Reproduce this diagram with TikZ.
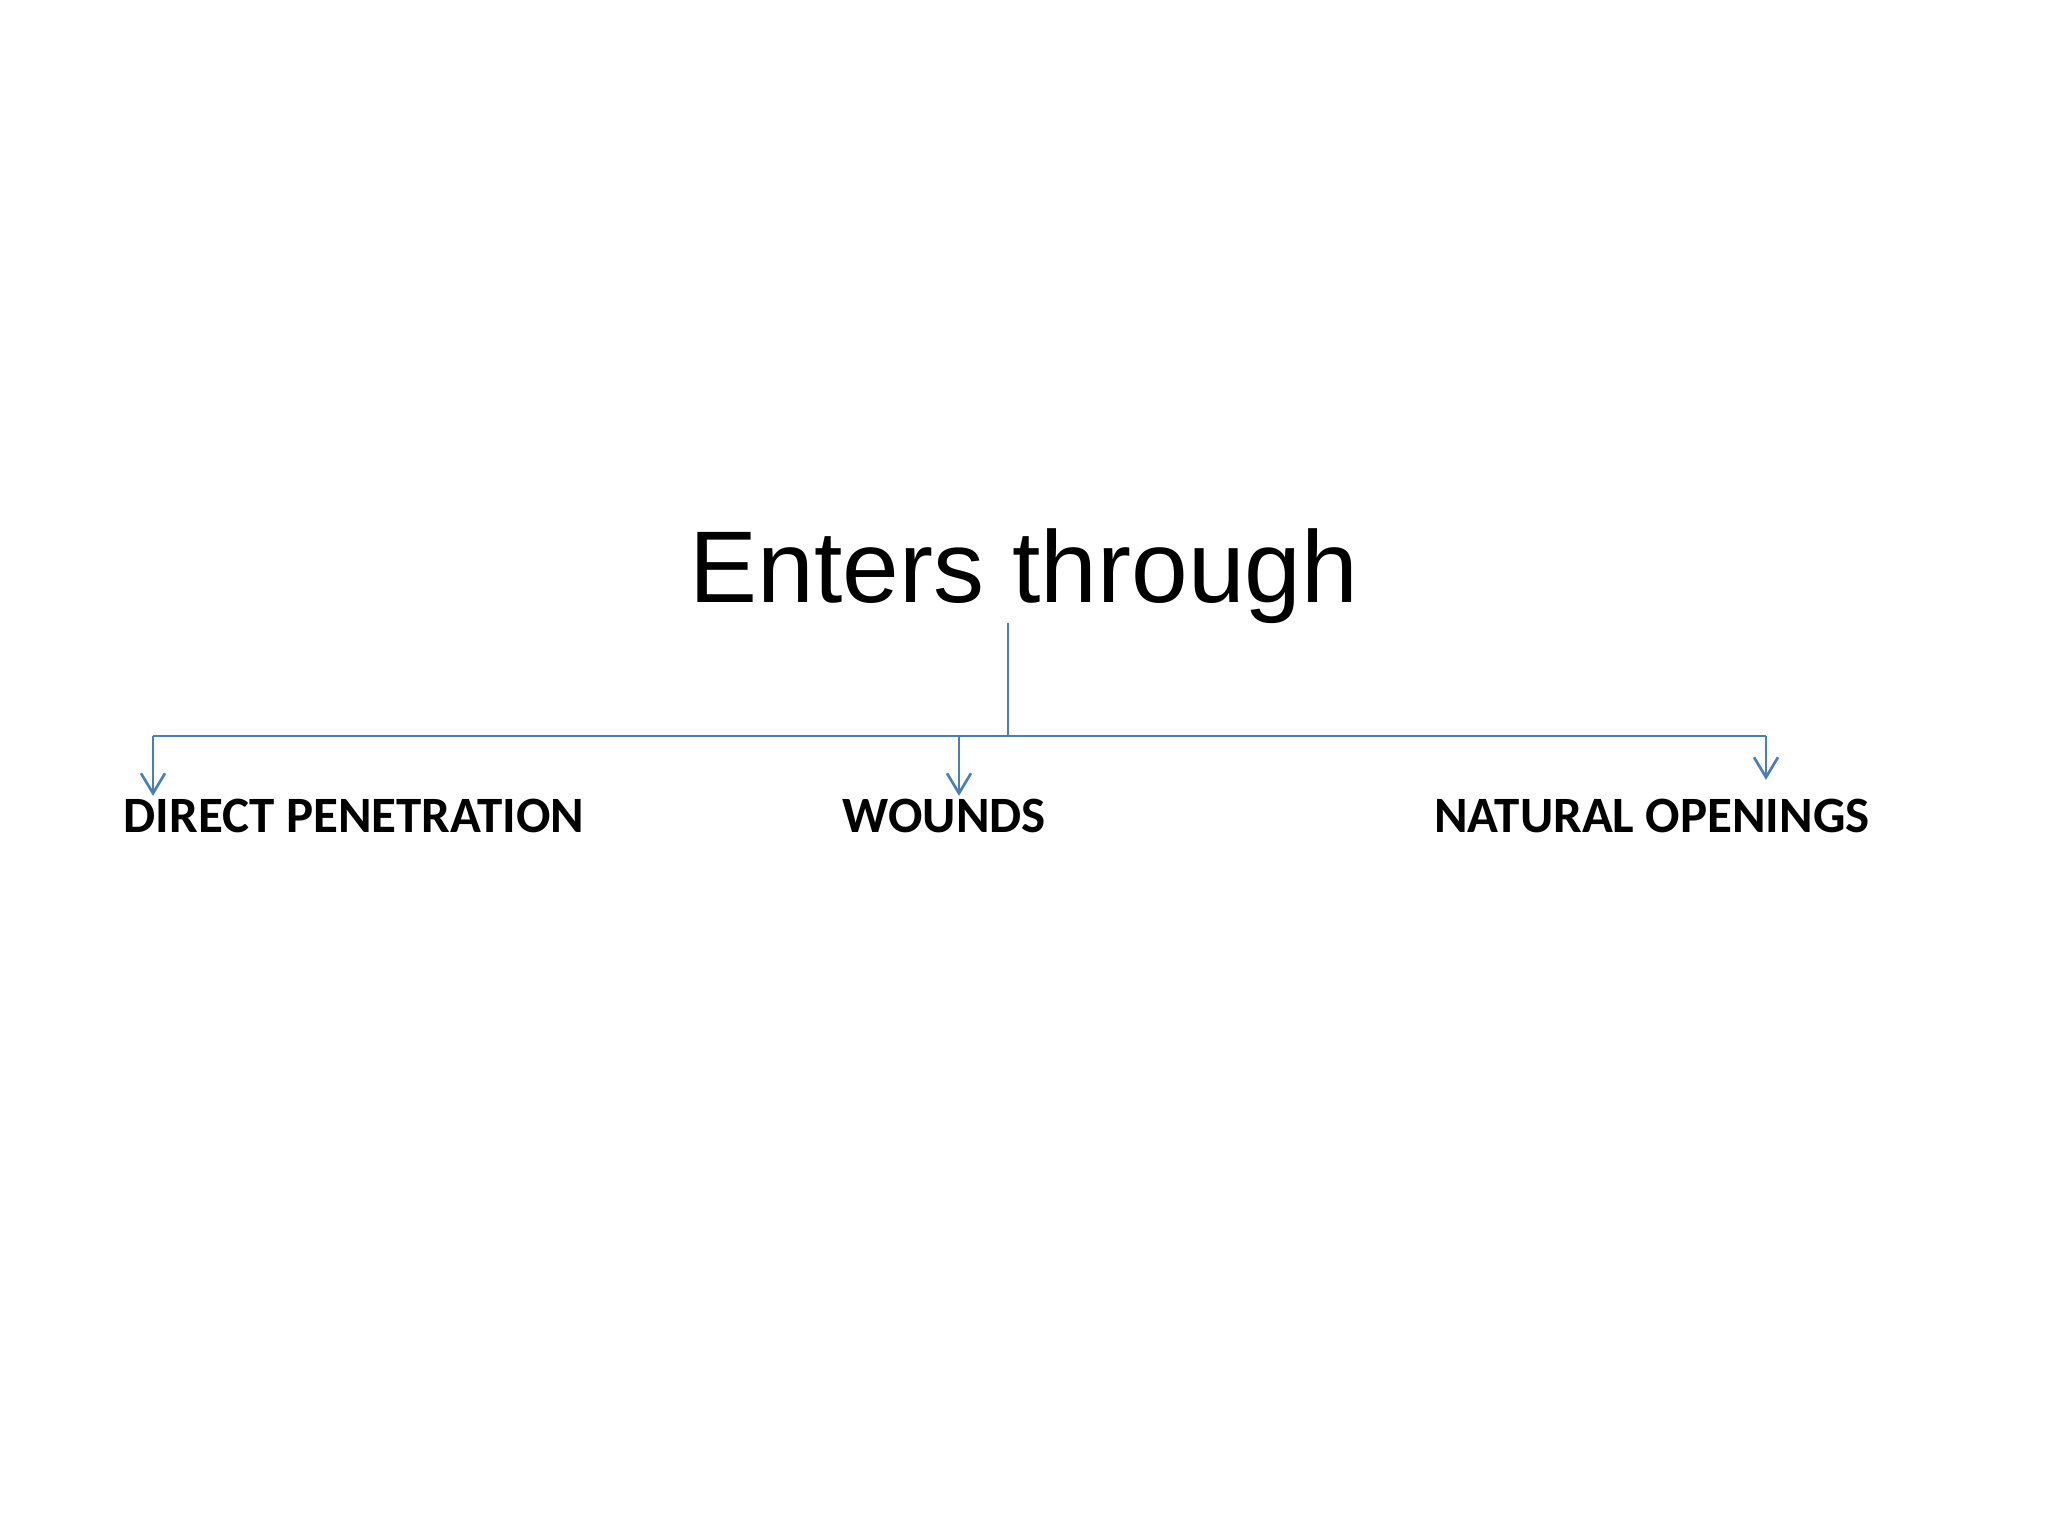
\documentclass[tikz,border=0pt]{standalone}
\usepackage{fontspec}
\setmainfont{Liberation Sans}
\newfontfamily\zweigfont{Carlito}
\usepackage{xcolor}
\usetikzlibrary{arrows.meta,positioning,calc}
\definecolor{astblau}{HTML}{4A7EBB}
\begin{document}
\begin{tikzpicture}[
        zweig/.style={draw=astblau, line width=0.75pt},
        pfeil/.style={zweig, -{Straight Barb[length=0.2cm, width=0.24cm, line width=0.75pt]}},
        eintrag/.style={inner sep=0.03cm, font=\zweigfont\bfseries\fontsize{14.5}{17}\selectfont}
    ]
        % Rahmen
        \useasboundingbox (0,0) rectangle (20.48,15.36);
        % Titel
        \node at (10.24,9.33) [anchor=base, inner sep=0] (titel) {\fontsize{29}{35}\selectfont Enters through};
        % Knotenpunkte
        \coordinate (start) at (10.08,9.13);
        \coordinate (mitte) at (10.08,8.00);
        \coordinate (links) at (1.53,8.00);
        \coordinate (wunde) at (9.59,8.00);
        \coordinate (rechts) at (17.66,8.00);
        % Eintraege
        \node at (3.54,7.03) [anchor=base, eintrag] (direkt) {DIRECT PENETRATION};
        \node at (9.445,7.03) [anchor=base, eintrag] (wunden) {WOUNDS};
        \node at (16.52,7.03) [anchor=base, eintrag] (natur) {NATURAL OPENINGS};
        % Stamm und Querbalken
        \draw[zweig] (start) -- (mitte);
        \draw[zweig] (links) -- (rechts);
        % Pfeile
        \draw[pfeil] (links) -- (links |- direkt.north);
        \draw[pfeil] (wunde) -- (wunde |- wunden.north);
        \draw[pfeil, shorten >=0.16cm] (rechts) -- (rechts |- natur.north);
    \end{tikzpicture}
\end{document}
